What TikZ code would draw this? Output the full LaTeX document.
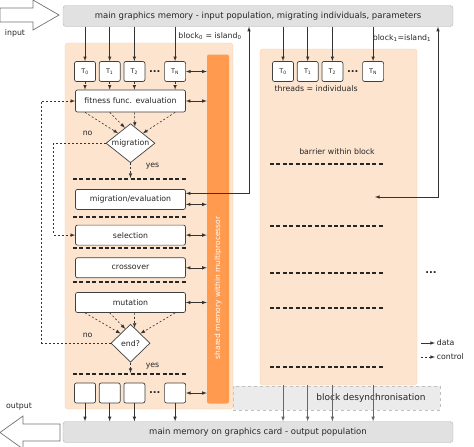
\documentclass[tikz,border=0pt]{standalone}
\usepackage{fontspec}
\setmainfont{DejaVu Sans}
\usetikzlibrary{positioning, shapes.geometric, calc}
\definecolor{peach}{HTML}{FDE4CF}
\definecolor{peachline}{HTML}{F9D2AC}
\definecolor{smbar}{HTML}{FF9A4F}
\definecolor{memgray}{HTML}{E1E1E1}
\newcommand{\thr}[1]{T\textsubscript{#1}}
\newcommand{\tdots}{{\fontsize{10}{10}\selectfont\textbf{...}}}

\begin{document}
\begin{tikzpicture}
	% style
	[x=1pt, y=-1pt, >=latex,
	font=\fontsize{7.8}{9}\selectfont, text=black!85,
	memory/.style={rectangle, rounded corners=3pt, draw=black!30, fill=memgray, minimum width=390pt, minimum height=21pt, inner sep=0pt, font=\fontsize{8.5}{10}\selectfont},
	block/.style={rectangle, rounded corners=3pt, draw=peachline, fill=peach, inner sep=0pt},
	smem/.style={rectangle, rounded corners=2pt, fill=smbar, inner sep=0pt, minimum width=22pt, minimum height=349pt},
	thread/.style={rectangle, rounded corners=2pt, draw=black!75, fill=white, line width=0.7pt, inner sep=0pt, minimum width=21pt, minimum height=20pt, font=\fontsize{6.5}{7}\selectfont},
	stage/.style={rectangle, rounded corners=2pt, draw=black!75, fill=white, line width=0.7pt, inner sep=0pt, minimum width=110pt, minimum height=20pt},
	decision/.style={diamond, draw=black!75, fill=white, line width=0.7pt, inner sep=0pt, shape aspect=1.25, minimum width=49pt, minimum height=39pt},
	dataflow/.style={->, line width=0.6pt, black!80},
	shared/.style={<->, line width=0.6pt, black!80},
	ctrlflow/.style={->, line width=0.6pt, black!80, dash pattern=on 2pt off 2pt},
	barrier/.style={line width=1.3pt, black!85, dash pattern=on 4pt off 2.4pt},
	hollow/.style={draw=black!55, fill=white, line width=0.7pt},
	desync/.style={rectangle, draw=black!25, dashed, fill=black!8, inner sep=0pt}]
	\useasboundingbox (0,0) rectangle (474,447);

	% memories
	\node [memory] (inmem) at (258,16) {main graphics memory - input population, migrating individuals, parameters};
	\node [memory] (outmem) at (258,432) {main memory on graphics card - output population};
	\node [desync, minimum width=207pt, minimum height=24pt] (desync) at (336.5,398) {};
	\draw [hollow] (0,8) -- (33,8) -- (33,0) -- (59,15) -- (33,30) -- (33,22) -- (0,22) -- cycle;
	\draw [hollow] (60,424) -- (23,424) -- (23,416) -- (0,432.5) -- (23,449) -- (23,441) -- (60,441) -- cycle;
	\node at (15,33) {input};
	\node at (19,407) {output};

	% block 0
	\node [block, minimum width=168pt, minimum height=366pt] (blockA) at (149,226) {};
	\node [smem] (smemA) at (218,229) {};
	\node [rotate=90, text=white, font=\fontsize{7.5}{9}\selectfont] at (218,288) {shared memory within multiprocessor};
	\node at (210,36) {block\textsubscript{0} = island\textsubscript{0}};

	\node [thread] (a0) at (85,71.5) {\thr{0}};
	\node [thread, right=3pt of a0] (a1) {\thr{1}};
	\node [thread, right=3pt of a1] (a2) {\thr{2}};
	\node [thread, right=19pt of a2] (aN) {\thr{N}};
	\node at ($(a2)!0.5!(aN)$) {\tdots};

	\node [stage, minimum height=22pt] (fit) at (130.5,101) {fitness func. evaluation};
	\node [decision, below=11pt of fit] (migr) {migration};
	\node [stage, below=26pt of migr] (migeval) {migration/evaluation};
	\node [stage, below=15pt of migeval] (sel) {selection};
	\node [stage, below=12pt of sel] (cross) {crossover};
	\node [stage, below=14pt of cross] (mut) {mutation};
	\node [decision, shape aspect=1, minimum width=39pt, minimum height=38pt, below=11pt of mut] (endq) {end?};

	\node [thread] (c0) at (85,393) {};
	\node [thread, right=3pt of c0] (c1) {};
	\node [thread, right=3pt of c1] (c2) {};
	\node [thread, right=19pt of c2] (cN) {};
	\node at ($(c2)!0.5!(cN)$) {\tdots};

	\node at ($(migr.west)+(-18,-10)$) {no};
	\node at ($(migr.south)+(22,3)$) {yes};
	\node at ($(endq.west)+(-23,-8)$) {no};
	\node at ($(endq.south)+(22,4)$) {yes};

	\foreach \y in {179,217,248,282,374}
		\draw [barrier] (73,\y) -- (187,\y);

	% block 1
	\node [block, minimum width=157pt, minimum height=336pt] (blockB) at (338.5,217) {};
	\node at (402,38) {block\textsubscript{1}=island\textsubscript{1}};
	\node [thread] (b0) at (283,71.5) {\thr{0}};
	\node [thread, right=3pt of b0] (b1) {\thr{1}};
	\node [thread, right=3pt of b1] (b2) {\thr{2}};
	\node [thread, right=19pt of b2] (bN) {\thr{N}};
	\node at ($(b2)!0.5!(bN)$) {\tdots};
	\node [anchor=west] at (271,89) {threads = individuals};
	\node at (337,152) {barrier within block};
	\coordinate (migB) at (375,197);
	\foreach \y in {164,226,273,308,367}
		\draw [barrier] (270,\y) -- (385,\y);
	\node at (431,273) {\tdots};
	\node [font=\fontsize{9}{10}\selectfont] at (371,398) {block desynchronisation};

	% data flow
	\foreach \t in {a0,a1,a2,aN,b0,b1,b2,bN}
		\draw [dataflow] (\t |- inmem.south) -- (\t.north);
	\foreach \t in {c0,c1,c2,cN}
		\draw [dataflow] (\t.south) -- (\t |- outmem.north);
	\foreach \t in {b0,b1,b2,bN}
		\draw [dataflow, black!60] (\t |- blockB.south) -- (\t |- outmem.north);
	\foreach \s in {aN,fit,sel,cross,mut,cN}
		\draw [shared] (\s.east) -- (\s.east -| smemA.west);
	\draw [shared] ([yshift=-5pt]migeval.east) -- ([yshift=-5pt]migeval.east -| smemA.west);
	\draw [shared] (inmem.south -| 249,0) |- ([yshift=6pt]migeval.east);
	\draw [shared] (inmem.south -| 438,0) |- (migB);

	% control flow
	\foreach \t in {a0,a1,a2,aN}
		\draw [ctrlflow] (\t.south) -- (\t |- fit.north);
	\draw [ctrlflow] (fit.south -| a0) -- (migr.north west);
	\draw [ctrlflow] (fit.south -| a1) -- (migr.110);
	\draw [ctrlflow] (fit.south -| a2) -- (migr.75);
	\draw [ctrlflow] (fit.south -| aN) -- (migr.north east);
	\draw [ctrlflow] (mut.south -| a0) -- (endq.north west);
	\draw [ctrlflow] (mut.south -| a1) -- (endq.110);
	\draw [ctrlflow] (mut.south -| a2) -- (endq.75);
	\draw [ctrlflow] (mut.south -| aN) -- (endq.north east);
	\draw [ctrlflow] (migr.west) -- ++(-52,0) |- (sel.west);
	\draw [ctrlflow] (endq.west) -- ++(-69,0) |- (fit.west);
	\draw [ctrlflow] (migr.south) -- (migr.south |- 0,178);
	\draw [ctrlflow] (endq.south) -- (endq.south |- 0,373);

	% legend
	\coordinate (legdata) at (421,343);
	\coordinate (legctrl) at (421,357);
	\draw [dataflow] (legdata) -- ++(14,0) node [right, inner sep=1.5pt, text=black!85] {data};
	\draw [ctrlflow] (legctrl) -- ++(14,0) node [right, inner sep=1.5pt, text=black!85] {control};
\end{tikzpicture}
\end{document}
